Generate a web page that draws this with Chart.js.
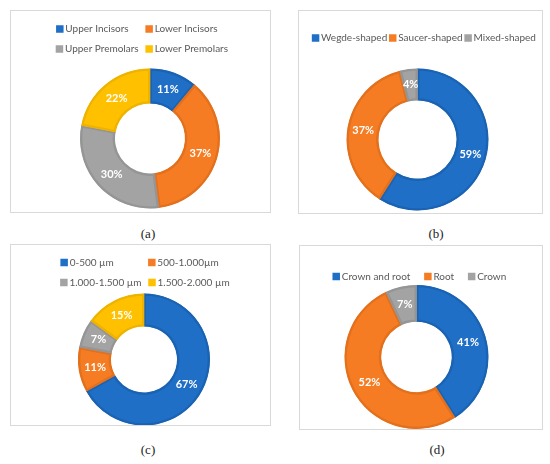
<!DOCTYPE html>
<html>
<head>
<meta charset="utf-8">
<script src="https://cdn.jsdelivr.net/npm/chart.js@4.4.1/dist/chart.umd.min.js"></script>
<style>
  html, body { margin: 0; padding: 0; background: #fff; }
  #page { position: relative; width: 550px; height: 464px; overflow: hidden; }
  .panel { position: absolute; border: 1px solid #d9d9d9; box-sizing: border-box; }
  .panel canvas { display: block; }
  .caption { position: absolute; font-family: 'Liberation Serif', 'DejaVu Serif', serif; font-size: 13px; color: #222; transform: translate(-50%, -50%); }
</style>
</head>
<body>
<div id="page">
  <div class="panel" style="left:10px;top:10px;width:261px;height:203px"><canvas id="chartA" width="259" height="201"></canvas></div>
  <div class="panel" style="left:298px;top:10px;width:245px;height:204px"><canvas id="chartB" width="243" height="202"></canvas></div>
  <div class="panel" style="left:10px;top:244px;width:261px;height:182px"><canvas id="chartC" width="259" height="180"></canvas></div>
  <div class="panel" style="left:299px;top:245px;width:244px;height:185px"><canvas id="chartD" width="242" height="183"></canvas></div>
  <div class="caption" style="left:148px;top:234px">(a)</div>
  <div class="caption" style="left:436px;top:234px">(b)</div>
  <div class="caption" style="left:148px;top:450px">(c)</div>
  <div class="caption" style="left:437px;top:450px">(d)</div>
</div>
<script>
const toothLabels = ['Upper Incisors', 'Lower Incisors', 'Upper Premolars', 'Lower Premolars']
const toothValues = [11, 37, 30, 22]

const shapeLabels = ['Wegde-shaped', 'Saucer-shaped', 'Mixed-shaped']
const shapeValues = [59, 37, 4]

const depthLabels = ['0-500 µm', '500-1.000µm', '1.000-1.500 µm', '1.500-2.000 µm']
const depthValues = [67, 11, 7, 15]

const siteLabels = ['Crown and root', 'Root', 'Crown']
const siteValues = [41, 52, 7]

const fills = ['#1f6fc6', '#f57c22', '#a3a3a3', '#ffc000']
const outlines = ['#1a63b3', '#e2701d', '#959595', '#eeb300']

const FONT = "Lato, 'Open Sans', sans-serif"
const LEGEND_SIZE = 10

const baseLabels = Chart.overrides.doughnut.plugins.legend.labels.generateLabels // eslint-disable-line

// plain squares, and items of one column padded to the same width so rows line up
function legendItems (chart, cols) {
  const items = baseLabels(chart).map((item) => ({ ...item, lineWidth: 0 }))
  if (!cols) return items
  const ctx = chart.ctx
  ctx.save()
  ctx.font = `${LEGEND_SIZE}px ${FONT}`
  for (let c = 0; c < cols; c++) {
    const col = items.filter((item, i) => i % cols === c)
    const target = Math.max(...col.map((item) => ctx.measureText(item.text).width))
    col.forEach((item) => {
      let n = 0
      while (ctx.measureText(item.text).width < target - 0.5 && n < 60) {
        item.text += '\u200a'
        n++
      }
    })
  }
  ctx.restore()
  return items
}

// white percentage text in the middle of every slice
const percentLabels = {
  id: 'percentLabels',
  afterDatasetsDraw (chart) {
    const { ctx } = chart
    const meta = chart.getDatasetMeta(0)
    const values = chart.data.datasets[0].data
    ctx.save()
    ctx.font = `bold 11px ${FONT}`
    ctx.fillStyle = '#ffffff'
    ctx.textAlign = 'center'
    ctx.textBaseline = 'middle'
    meta.data.forEach((arc, i) => {
      const { x, y } = arc.tooltipPosition()
      ctx.fillText(`${values[i]}%`, x, y)
    })
    ctx.restore()
  }
}

// move the chart area so the ring sits where it sits in the figure
const ringCenter = {
  id: 'ringCenter',
  afterLayout (chart, args, opts) {
    const area = chart.chartArea
    const dx = opts.x - (area.left + area.right) / 2
    const dy = opts.y - (area.top + area.bottom) / 2
    area.left += dx
    area.right += dx
    area.top += dy
    area.bottom += dy
  }
}

function doughnut (id, labels, values, o) {
  const ctx = document.getElementById(id).getContext('2d')
  return new Chart(ctx, { // eslint-disable-line
    type: 'doughnut',
    data: {
      labels,
      datasets: [{
        data: values,
        backgroundColor: fills.slice(0, values.length),
        borderColor: outlines.slice(0, values.length),
        borderWidth: 2,
        borderAlign: 'inner',
        radius: o.radius,
        cutout: o.cutout,
        clip: false
      }]
    },
    options: {
      responsive: false,
      animation: false,
      layout: { padding: { top: o.top, left: o.left || 0 } },
      plugins: {
        legend: {
          position: 'top',
          labels: {
            usePointStyle: true,
            pointStyle: 'rect',
            boxWidth: 1,
            boxHeight: 7.5,
            padding: o.gap,
            color: '#595959',
            font: { family: FONT, size: LEGEND_SIZE },
            generateLabels: (chart) => legendItems(chart, o.cols)
          }
        },
        tooltip: { enabled: false },
        ringCenter: { x: o.x, y: o.y }
      }
    },
    plugins: [percentLabels, ringCenter]
  })
}

doughnut('chartA', toothLabels, toothValues, { x: 139, y: 127.5, radius: 70, cutout: '50%', top: 3, left: 6, gap: 10, cols: 2 })
doughnut('chartB', shapeLabels, shapeValues, { x: 118.5, y: 128.5, radius: 71, cutout: '55%', top: 17, left: 10, gap: 5 })
doughnut('chartC', depthLabels, depthValues, { x: 133, y: 114.5, radius: 66, cutout: '50%', top: 2.5, left: 12, gap: 10, cols: 2 })
doughnut('chartD', siteLabels, siteValues, { x: 116.5, y: 111, radius: 72, cutout: '49%', top: 8.5, gap: 17 })
</script>
</body>
</html>
